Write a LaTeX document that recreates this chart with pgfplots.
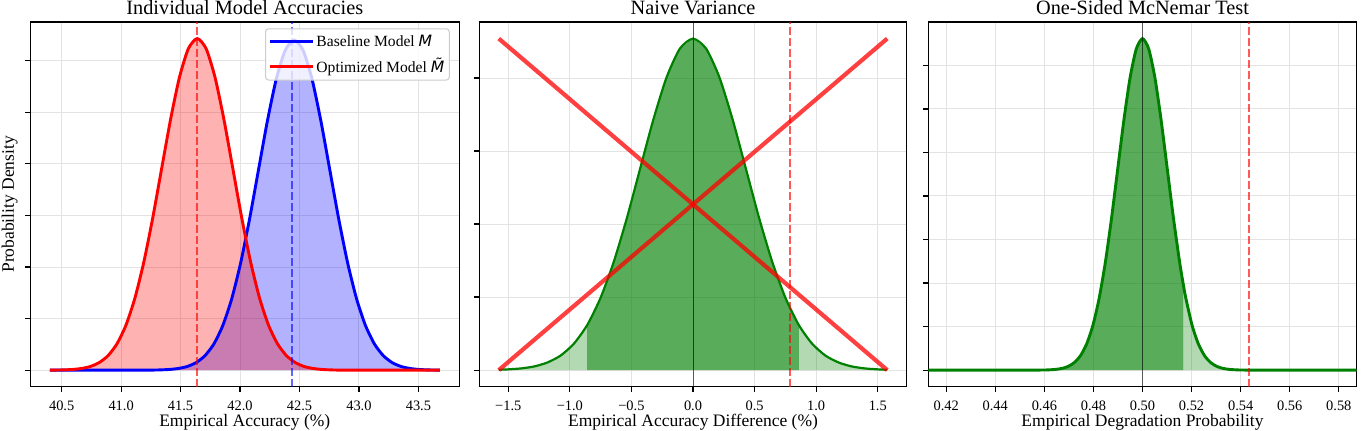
\documentclass[border=0pt]{standalone}
\usepackage{fontspec}
\setmainfont{Liberation Serif}
\newfontfamily\dejavu{DejaVu Sans}
\usepackage{pgfplots}
\usepackage{pgfplotstable}
\pgfplotsset{compat=1.18}
\definecolor{mplgreen}{RGB}{0,128,0}

\pgfplotstableread{
x y
40.40 0
40.44 0.002
40.515 0.006
40.59 0.014
40.665 0.033
40.74 0.071
40.815 0.147
40.89 0.282
40.965 0.512
41.04 0.870
41.115 1.391
41.19 2.088
41.265 2.944
41.34 3.900
41.415 4.853
41.49 5.674
41.565 6.232
41.64 6.430
41.715 6.232
41.79 5.674
41.865 4.853
41.94 3.900
42.015 2.944
42.09 2.088
42.165 1.391
42.24 0.870
42.315 0.512
42.39 0.282
42.465 0.147
42.54 0.071
42.615 0.033
42.69 0.014
42.765 0.006
42.84 0.002
43.20 0
43.68 0
}\redtab

\pgfplotstableread{
x y
40.40 0
41.00 0
41.255 0.002
41.33 0.006
41.405 0.014
41.48 0.033
41.555 0.071
41.63 0.146
41.705 0.281
41.78 0.509
41.855 0.866
41.93 1.384
42.005 2.078
42.08 2.930
42.155 3.882
42.23 4.831
42.305 5.648
42.38 6.203
42.455 6.400
42.53 6.203
42.605 5.648
42.68 4.831
42.755 3.882
42.83 2.930
42.905 2.078
42.98 1.384
43.055 0.866
43.13 0.509
43.205 0.281
43.28 0.146
43.355 0.071
43.43 0.033
43.505 0.014
43.58 0.006
43.655 0.002
43.68 0
}\bluetab

\pgfplotstableread{
x y
-1.577 0.005
-1.505 0.010
-1.3975 0.023
-1.29 0.050
-1.1825 0.104
-1.075 0.199
-0.9675 0.361
-0.86 0.614
-0.7525 0.982
-0.645 1.474
-0.5375 2.078
-0.43 2.754
-0.3225 3.427
-0.215 4.007
-0.1075 4.400
0 4.540
0.1075 4.400
0.215 4.007
0.3225 3.427
0.43 2.754
0.5375 2.078
0.645 1.474
0.7525 0.982
0.86 0.614
0.9675 0.361
1.075 0.199
1.1825 0.104
1.29 0.050
1.3975 0.023
1.505 0.010
1.577 0.005
}\difftab

\pgfplotstableread{
x y
0.4127 0
0.4500 0
0.4596 0.002
0.462125 0.007
0.46465 0.017
0.467175 0.039
0.4697 0.085
0.472225 0.174
0.47475 0.334
0.477275 0.606
0.4798 1.030
0.482325 1.647
0.48485 2.473
0.487375 3.487
0.4899 4.619
0.492425 5.749
0.49495 6.721
0.497475 7.381
0.5 7.616
0.502525 7.381
0.50505 6.721
0.507575 5.749
0.5101 4.619
0.512625 3.487
0.51515 2.473
0.5167 1.943
0.517675 1.647
0.5202 1.030
0.522725 0.606
0.52525 0.334
0.527775 0.174
0.5303 0.085
0.532825 0.039
0.53535 0.017
0.537875 0.007
0.5404 0.002
0.5500 0
0.5873 0
}\mcntab

\pgfplotsset{
  panel/.style={
    scale only axis,
    height=364.7pt,
    axis line style={line width=1.5pt},
    tick align=outside,
    major tick length=5pt,
    every tick/.style={black, line width=1.2pt},
    xtick pos=left, ytick pos=left,
    grid=major,
    major grid style={black!11, line width=1pt},
    yticklabels={},
    tick label style={font=\fontsize{14.4}{16}\selectfont},
    xticklabel style={anchor=base, yshift=-18.6pt},
    every axis title/.style={at={(0.5,1)}, anchor=base, yshift=7pt, font=\fontsize{20.3}{24}\selectfont},
    every axis x label/.style={at={(axis description cs:0.5,0)}, anchor=base, yshift=-40pt, font=\fontsize{17.5}{20}\selectfont},
    every axis y label/.style={at={(axis description cs:-0.0383,0.5)}, rotate=90, anchor=base, font=\fontsize{17.5}{20}\selectfont},
  },
}

\begin{document}
\begin{tikzpicture}
\useasboundingbox (0,0) rectangle (1361pt,431pt);

% ---------- Panel 1 ----------
\begin{axis}[panel,
  at={(30.3pt,44.3pt)}, anchor=south west, width=429pt,
  xmin=40.236, xmax=43.844, ymin=-0.32, ymax=6.75,
  xtick={40.5,41,41.5,42,42.5,43,43.5},
  xticklabels={40.5,41.0,41.5,42.0,42.5,43.0,43.5},
  ytick={0,1,2,3,4,5,6},
  title={Individual Model Accuracies},
  xlabel={Empirical Accuracy (\%)},
  ylabel={Probability Density},
  legend style={at={(1,1)}, anchor=north east, xshift=-9.5pt, yshift=-6.3pt,
    draw=black!20, line width=1pt, rounded corners=3pt, fill=white, fill opacity=0.8, text opacity=1,
    font=\fontsize{15.6}{19}\selectfont, inner xsep=3pt, inner ysep=4pt, row sep=6.5pt, cells={anchor=west}},
  legend image code/.code={\draw[#1, line width=2.4pt] (0pt,0pt) -- (34pt,0pt); \path (-2pt,0pt) -- (41pt,0pt);},
]
\addplot[draw=none, fill=blue, fill opacity=0.3, forget plot] table[x=x,y=y]{\bluetab} \closedcycle;
\addplot[draw=none, fill=red, fill opacity=0.3, forget plot] table[x=x,y=y]{\redtab} \closedcycle;
\addplot[blue, line width=2.9pt, smooth, tension=0.4] table[x=x,y=y]{\bluetab};
\addlegendentry{Baseline Model {\dejavu\itshape M}}
\addplot[red, line width=2.9pt, smooth, tension=0.4] table[x=x,y=y]{\redtab};
\addlegendentry{Optimized Model {\dejavu\itshape \~{M}}}
\addplot[red, opacity=0.65, line width=2pt, dash pattern=on 7.5pt off 3.5pt, forget plot] coordinates {(41.64,-0.32) (41.64,6.75)};
\addplot[blue, opacity=0.6, line width=2pt, dash pattern=on 7.5pt off 3.5pt, forget plot] coordinates {(42.433,-0.32) (42.433,6.75)};
\end{axis}

% ---------- Panel 2 ----------
\begin{axis}[panel,
  at={(479.3pt,44.3pt)}, anchor=south west, width=427.4pt,
  xmin=-1.735, xmax=1.735, ymin=-0.227, ymax=4.767,
  xtick={-1.5,-1,-0.5,0,0.5,1,1.5},
  xticklabels={−1.5,−1.0,−0.5,0.0,0.5,1.0,1.5},
  ytick={0,1,2,3,4},
  title={Naive Variance},
  xlabel={Empirical Accuracy Difference (\%)},
]
\addplot[draw=none, fill=mplgreen, fill opacity=0.3, restrict x to domain=-2:-0.8599] table[x=x,y=y]{\difftab} \closedcycle;
\addplot[draw=none, fill=mplgreen, fill opacity=0.3, restrict x to domain=0.8599:2] table[x=x,y=y]{\difftab} \closedcycle;
\addplot[draw=none, fill=mplgreen, fill opacity=0.65, restrict x to domain=-0.8601:0.8601] table[x=x,y=y]{\difftab} \closedcycle;
\addplot[mplgreen, line width=2.2pt, smooth, tension=0.4] table[x=x,y=y]{\difftab};
\addplot[black, opacity=0.6, line width=1pt] coordinates {(0,-0.227) (0,4.767)};
\addplot[red, opacity=0.65, line width=2pt, dash pattern=on 7.5pt off 3.5pt] coordinates {(0.786,-0.227) (0.786,4.767)};
\addplot[red, opacity=0.75, line width=4.2pt] coordinates {(-1.577,0) (1.577,4.54)};
\addplot[red, opacity=0.75, line width=4.2pt] coordinates {(-1.577,4.54) (1.577,0)};
\end{axis}

% ---------- Panel 3 ----------
\begin{axis}[panel,
  at={(928.3pt,44.3pt)}, anchor=south west, width=428.4pt,
  xmin=0.4127, xmax=0.5873, ymin=-0.381, ymax=7.997,
  xtick={0.42,0.44,0.46,0.48,0.50,0.52,0.54,0.56,0.58},
  xticklabels={0.42,0.44,0.46,0.48,0.50,0.52,0.54,0.56,0.58},
  ytick={0,1,2,3,4,5,6,7},
  title={One-Sided McNemar Test},
  xlabel={Empirical Degradation Probability},
]
\addplot[draw=none, fill=mplgreen, fill opacity=0.65, restrict x to domain=0.4:0.51671] table[x=x,y=y]{\mcntab} \closedcycle;
\addplot[draw=none, fill=mplgreen, fill opacity=0.3, restrict x to domain=0.51669:0.6] table[x=x,y=y]{\mcntab} \closedcycle;
\addplot[mplgreen, line width=2.9pt, smooth, tension=0.4] table[x=x,y=y]{\mcntab};
\addplot[black, opacity=0.6, line width=1pt] coordinates {(0.5,-0.381) (0.5,7.997)};
\addplot[red, opacity=0.65, line width=2pt, dash pattern=on 7.5pt off 3.5pt] coordinates {(0.5436,-0.381) (0.5436,7.997)};
\end{axis}
\end{tikzpicture}
\end{document}
